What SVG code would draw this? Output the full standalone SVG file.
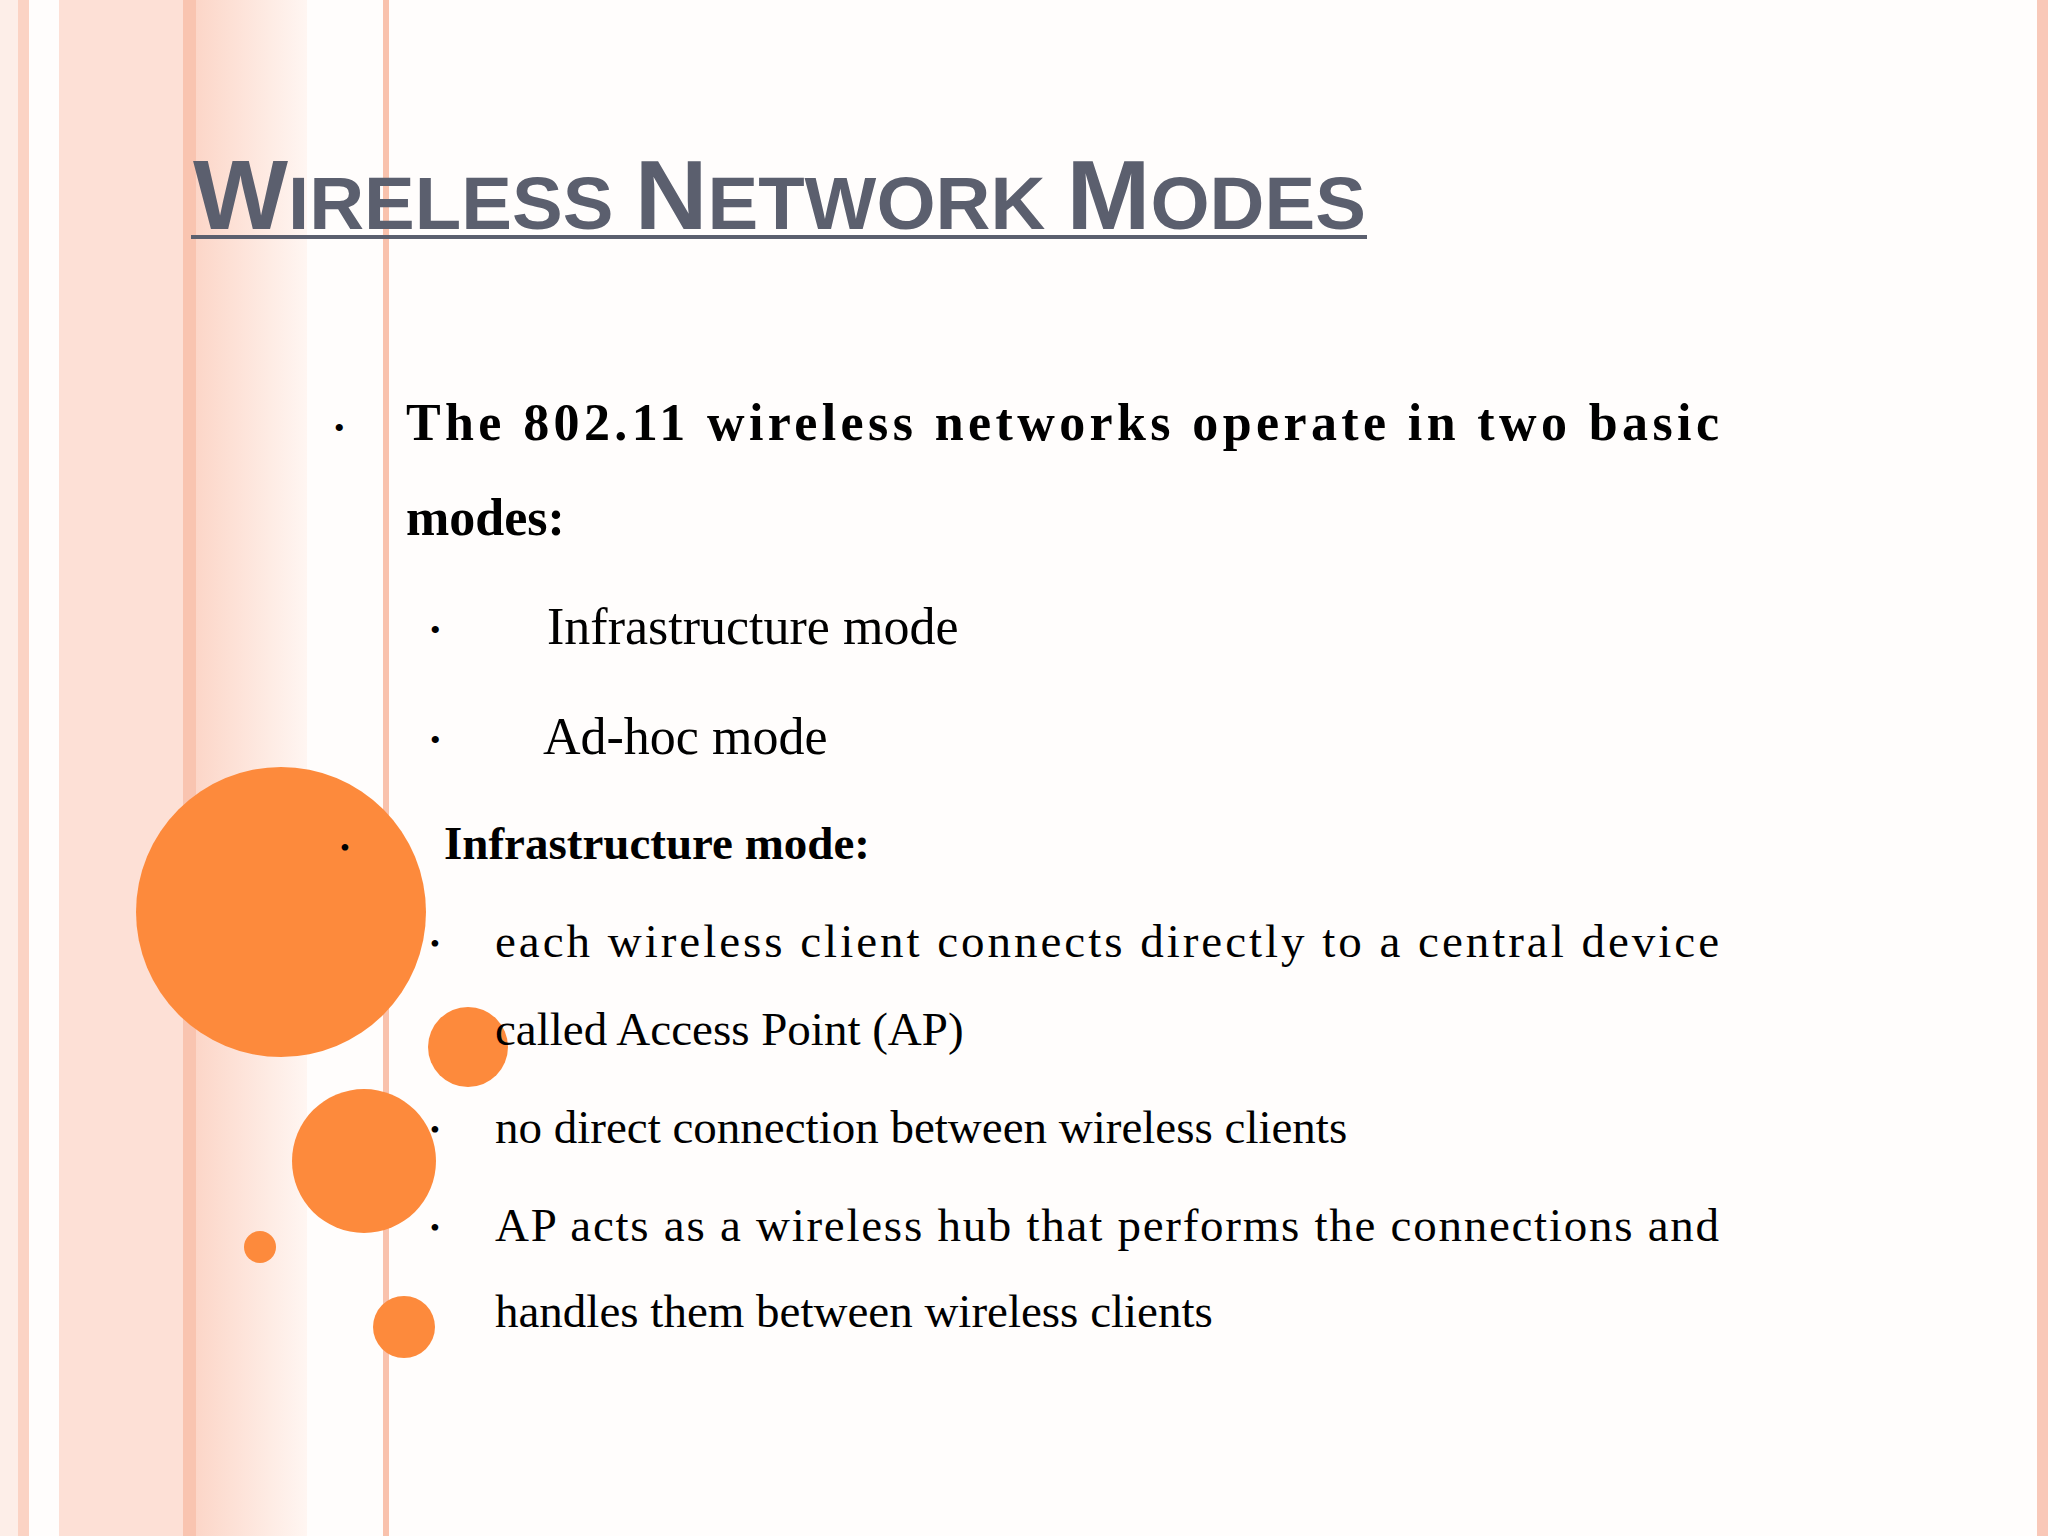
<svg xmlns="http://www.w3.org/2000/svg" width="2048" height="1536" viewBox="0 0 2048 1536">
<defs>
<linearGradient id="g1" x1="0" x2="1" y1="0" y2="0"><stop offset="0" stop-color="#fcd6c8"/><stop offset="1" stop-color="#fff6f2"/></linearGradient>
<style>
.c{fill:#fd8a3c}
.b{font-family:"Liberation Serif",serif;fill:#000}
.t{font-family:"Liberation Sans",sans-serif;font-weight:bold;fill:#5b5f6e}
</style>
</defs>
<rect width="2048" height="1536" fill="#fffdfc"/>
<g id="background">
<rect x="0" y="0" width="18" height="1536" fill="#fdeee8"/>
<rect x="18" y="0" width="11" height="1536" fill="#fbd3c4"/>
<rect x="59" y="0" width="124" height="1536" fill="#fde0d6"/>
<rect x="183" y="0" width="13" height="1536" fill="#f9c4b0"/>
<rect x="196" y="0" width="111" height="1536" fill="url(#g1)"/>
<rect x="383" y="0" width="6" height="1536" fill="#f9c2ad"/>
<rect x="2037" y="0" width="11" height="1536" fill="#f9c8b8"/>
</g>
<g id="circles">
<circle class="c" cx="281" cy="912" r="145"/>
<circle class="c" cx="468" cy="1047" r="40"/>
<circle class="c" cx="364" cy="1161" r="72"/>
<circle class="c" cx="260" cy="1247" r="16"/>
<circle class="c" cx="404" cy="1327" r="31"/>
</g>
<g id="title">
<text class="t" x="193" y="229" textLength="1173" lengthAdjust="spacingAndGlyphs"><tspan font-size="98">W</tspan><tspan font-size="74">IRELESS </tspan><tspan font-size="98">N</tspan><tspan font-size="74">ETWORK </tspan><tspan font-size="98">M</tspan><tspan font-size="74">ODES</tspan></text>
<rect x="191" y="235" width="1176" height="4" fill="#5b5f6e"/>
</g>
<g id="body">
<text class="b" x="334" y="438" font-size="30">•</text>
<text class="b" x="406" y="440" font-size="52" font-weight="bold" textLength="1313" lengthAdjust="spacing">The 802.11 wireless networks operate in two basic</text>
<text class="b" x="406" y="535" font-size="52" font-weight="bold">modes:</text>
<text class="b" x="430" y="640" font-size="30">•</text>
<text class="b" x="547" y="644" font-size="52">Infrastructure mode</text>
<text class="b" x="430" y="750" font-size="30">•</text>
<text class="b" x="543" y="754" font-size="52">Ad-hoc mode</text>
<text class="b" x="340" y="857" font-size="28">•</text>
<text class="b" x="444" y="859" font-size="47" font-weight="bold">Infrastructure mode:</text>
<text class="b" x="430" y="953" font-size="28">•</text>
<text class="b" x="495" y="957" font-size="47" textLength="1224" lengthAdjust="spacing">each wireless client connects directly to a central device</text>
<text class="b" x="495" y="1045" font-size="47">called Access Point (AP)</text>
<text class="b" x="430" y="1139" font-size="28">•</text>
<text class="b" x="495" y="1143" font-size="47">no direct connection between wireless clients</text>
<text class="b" x="430" y="1237" font-size="28">•</text>
<text class="b" x="495" y="1241" font-size="47" textLength="1224" lengthAdjust="spacing">AP acts as a wireless hub that performs the connections and</text>
<text class="b" x="495" y="1327" font-size="47">handles them between wireless clients</text>
</g>
</svg>
